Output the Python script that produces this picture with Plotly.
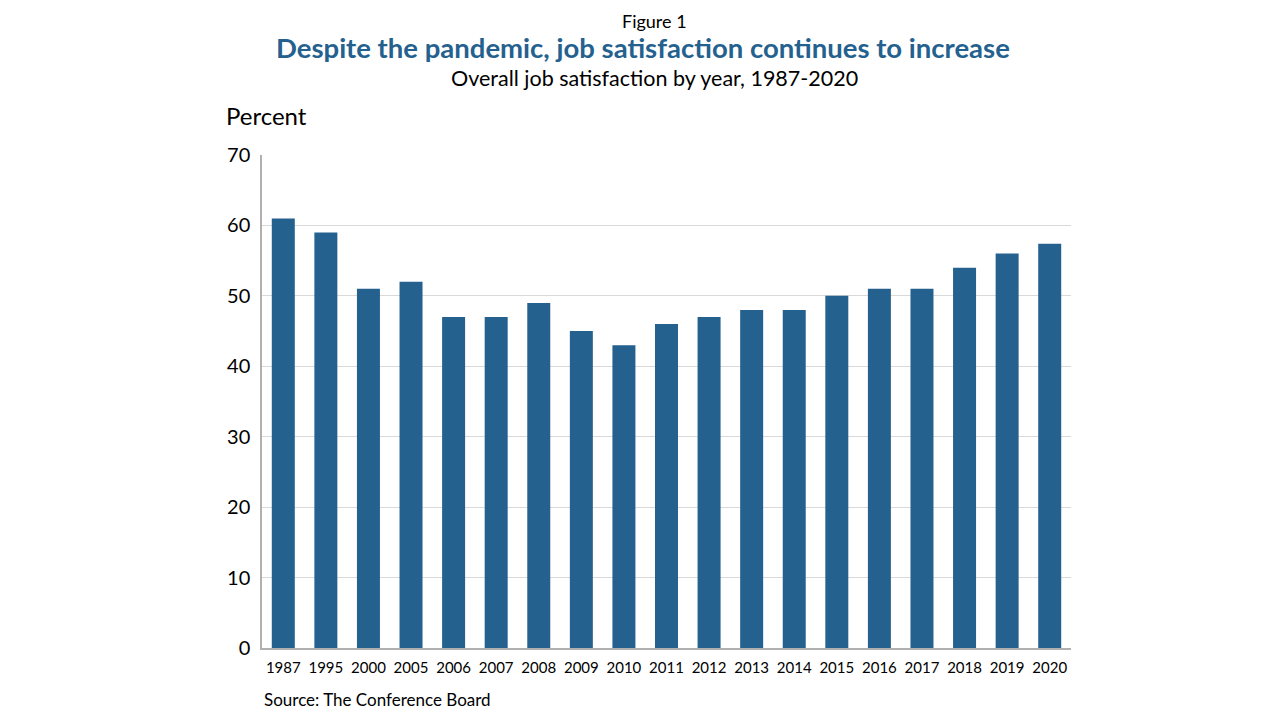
import plotly.graph_objects as go

years = ["1987", "1995", "2000", "2005", "2006", "2007", "2008", "2009", "2010", "2011",
         "2012", "2013", "2014", "2015", "2016", "2017", "2018", "2019", "2020"]
satisfaction = [61, 59, 51, 52, 47, 47, 49, 45, 43, 46, 47, 48, 48, 50, 51, 51, 54, 56, 57.4]

FONT = "Lato"
BAR = "#24618E"
TITLE = "#24618E"

OFF = 8  # page body offset
W, H = 1280 - 2 * OFF, 720 - 2 * OFF
L, T = 262 - OFF, 155 - OFF
pw, ph = 809, 493
R = W - L - pw
B = H - T - ph

def px(x):
    return (x - OFF - L) / pw

def py(y):
    return (H - B - (y - OFF)) / ph

fig = go.Figure(go.Bar(x=years, y=satisfaction, marker=dict(color=BAR, line=dict(width=0)),
                       hoverinfo="x+y"))

fig.update_layout(
    width=W, height=H,
    margin=dict(l=L, r=R, t=T, b=B),
    plot_bgcolor="white", paper_bgcolor="white",
    bargap=0.46,
    showlegend=False,
    font=dict(family=FONT, color="black"),
    xaxis=dict(showgrid=False, showline=True, linecolor="#b0b0b0", linewidth=1.5,
               ticks="", tickfont=dict(size=15, color="black"), ticklabelstandoff=5),
    yaxis=dict(range=[0, 70], dtick=10, showgrid=True, gridcolor="#d9d9d9", gridwidth=1,
               showline=True, linecolor="#b0b0b0", linewidth=1.5, zeroline=False,
               ticks="", tickfont=dict(size=20, color="black"), ticklabelstandoff=6),
    annotations=[
        dict(text="Figure 1", x=px(654), y=py(OFF + 1), xref="paper", yref="paper",
             showarrow=False, font=dict(size=18, color="black", family=FONT),
             xanchor="center", yanchor="top", borderpad=0),
        dict(text="<b>Despite the pandemic, job satisfaction continues to increase</b>",
             x=px(643), y=py(47), xref="paper", yref="paper", showarrow=False,
             font=dict(size=27.5, color=TITLE, family=FONT), xanchor="center", yanchor="middle"),
        dict(text="Overall job satisfaction by year, 1987-2020", x=px(654), y=py(78),
             xref="paper", yref="paper", showarrow=False,
             font=dict(size=21.5, color="black", family=FONT), xanchor="center", yanchor="middle"),
        dict(text="Percent", x=px(224), y=py(116), xref="paper", yref="paper",
             showarrow=False, font=dict(size=24, color="black", family=FONT),
             xanchor="left", yanchor="middle"),
        dict(text="Source: The Conference Board", x=px(263), y=py(720 - OFF - 1), xref="paper",
             yref="paper", showarrow=False, font=dict(size=17, color="black", family=FONT),
             xanchor="left", yanchor="bottom", borderpad=0),
    ],
)

fig.write_html("out.html")
